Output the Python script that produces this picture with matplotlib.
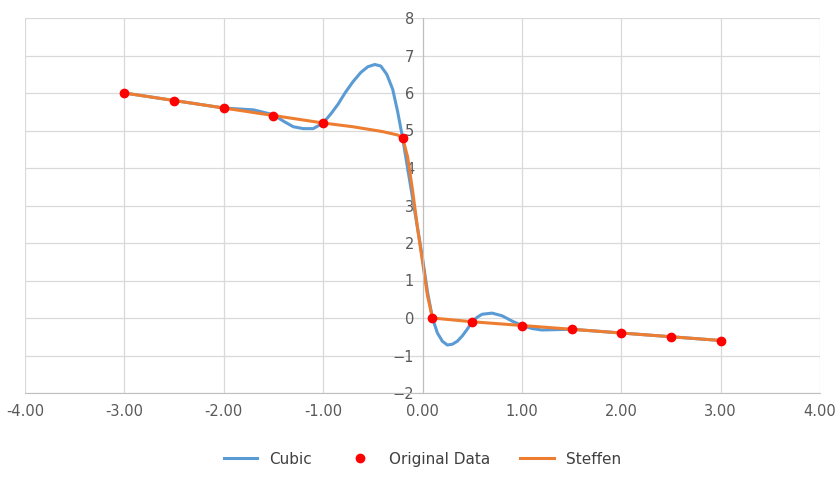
import matplotlib
matplotlib.use("Agg")
import matplotlib.pyplot as plt

# original points
data_x = [-3, -2.5, -2, -1.5, -1, -0.2, 0.1, 0.5, 1, 1.5, 2, 2.5, 3]
data_y = [6, 5.8, 5.6, 5.4, 5.2, 4.8, 0, -0.1, -0.2, -0.3, -0.4, -0.5, -0.6]

# cubic spline curve
cubic_x = [-3, -2.5, -2, -1.7, -1.5, -1.4, -1.3, -1.2, -1.1, -1.0, -0.92, -0.85, -0.78, -0.7,
           -0.62, -0.55, -0.48, -0.42, -0.36, -0.3, -0.25, -0.2, -0.15, -0.1, -0.05, 0.0,
           0.05, 0.1, 0.15, 0.2, 0.25, 0.3, 0.35, 0.4, 0.45, 0.5, 0.55, 0.6, 0.7, 0.8, 0.9,
           1.0, 1.1, 1.2, 1.35, 1.5, 2, 2.5, 3]
cubic_y = [6, 5.8, 5.6, 5.55, 5.42, 5.25, 5.1, 5.05, 5.05, 5.2, 5.45, 5.7, 6.0, 6.3,
           6.55, 6.7, 6.76, 6.72, 6.5, 6.1, 5.5, 4.8, 4.0, 3.2, 2.4, 1.6,
           0.7, 0.0, -0.4, -0.62, -0.72, -0.7, -0.62, -0.48, -0.3, -0.1, 0.02, 0.1, 0.13, 0.06,
           -0.08, -0.2, -0.28, -0.32, -0.31, -0.3, -0.4, -0.5, -0.6]

# Steffen curve
steffen_x = [-3, -2.5, -2, -1.5, -1, -0.7, -0.4, -0.25, -0.2, -0.15, -0.1, -0.05, 0.0, 0.05,
             0.1, 0.5, 1, 1.5, 2, 2.5, 3]
steffen_y = [6, 5.8, 5.6, 5.4, 5.2, 5.1, 4.97, 4.88, 4.8, 4.3, 3.4, 2.4, 1.5, 0.6,
             0, -0.1, -0.2, -0.3, -0.4, -0.5, -0.6]

plt.rcParams.update({"font.family": "DejaVu Sans", "font.size": 10.5})
fig = plt.figure(figsize=(8.4, 4.95), dpi=100)
ax = fig.add_axes([25 / 840, 1 - 393 / 495, 795 / 840, 375 / 495])

ax.plot(cubic_x, cubic_y, color="#5b9bd5", lw=2.2, label="Cubic")
ax.plot(data_x, data_y, "o", color="#ff0000", ms=6, label="Original Data", zorder=5)
ax.plot(steffen_x, steffen_y, color="#ed7d31", lw=2.2, label="Steffen")

ax.set_xlim(-4, 4)
ax.set_ylim(-2, 8)
ax.set_xticks(range(-4, 5))
ax.set_xticklabels([f"{v:.2f}" for v in range(-4, 5)])
ax.set_yticks(range(-2, 9))
ax.grid(True, color="#d9d9d9", lw=0.9)
ax.set_axisbelow(True)
for s in ["top", "right"]:
    ax.spines[s].set_visible(False)
ax.spines["left"].set_position(("data", 0))
ax.spines["left"].set_color("#bfbfbf")
ax.spines["bottom"].set_color("#bfbfbf")
ax.tick_params(length=0, colors="#595959", labelsize=10.5)
ax.tick_params(axis="x", pad=8)
ax.tick_params(axis="y", pad=6)

ax.legend(loc="upper center", bbox_to_anchor=(0.5, -0.12), ncol=3, frameon=False,
          fontsize=11, handlelength=2.2, columnspacing=2.0, labelcolor="#404040")
fig.savefig("out.png", dpi=100)
